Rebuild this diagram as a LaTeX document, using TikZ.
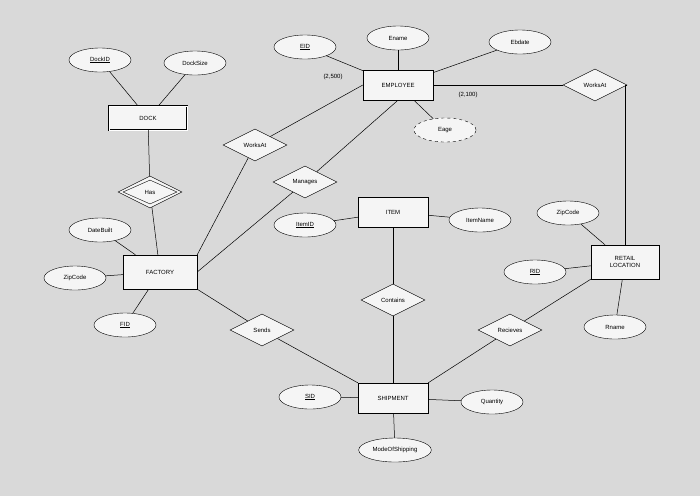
\documentclass[tikz,border=0pt]{standalone}
\usepackage{fontspec}
\setmainfont{Liberation Sans}
\usetikzlibrary{shapes.geometric}
\begin{document}
\begin{tikzpicture}[x=1pt,y=-1pt,
  every node/.style={font=\fontsize{6}{7}\selectfont},
  ent/.style={draw,fill=white!92!gray,minimum width=70,minimum height=30},
  att/.style={draw,ellipse,fill=white!92!gray,minimum width=62,minimum height=24},
  rel/.style={draw,diamond,aspect=2.4,fill=white!92!gray,inner sep=0pt,minimum width=64,minimum height=32},
  ln/.style={draw,line width=0.5pt}]
\fill[gray!30] (0,0) rectangle (700,496);
\useasboundingbox (0,0) rectangle (700,496);
% entities
\node[ent,double,minimum width=78,minimum height=24] (dock) at (148,118) {DOCK};
\node[ent,minimum width=74,minimum height=34] (fac) at (160,272) {FACTORY};
\node[ent] (emp) at (398,85) {EMPLOYEE};
\node[ent] (item) at (393,212) {ITEM};
\node[ent,minimum width=68,minimum height=34,align=center] (ret) at (625,262) {RETAIL\\LOCATION};
\node[ent] (ship) at (393,398) {SHIPMENT};
% relationships
\node[rel] (has) at (150,192) {};
\node[rel,minimum width=54,minimum height=24,label=center:Has] at (150,192) {};
\node[rel] (wa1) at (255,145) {WorksAt};
\node[rel] (man) at (305,182) {Manages};
\node[rel] (wa2) at (595,85) {WorksAt};
\node[rel] (con) at (393,300) {Contains};
\node[rel] (sen) at (262,330) {Sends};
\node[rel] (rec) at (510,330) {Recieves};
% attributes
\node[att] (dockid) at (100,60) {\underline{DockID}};
\node[att] (docksize) at (195,63) {DockSize};
\node[att] (date) at (100,230) {DateBuilt};
\node[att] (zip1) at (75,278) {ZipCode};
\node[att] (fid) at (125,325) {\underline{FID}};
\node[att] (eid) at (305,47) {\underline{EID}};
\node[att] (ename) at (398,38) {Ename};
\node[att] (ebdate) at (520,42) {Ebdate};
\node[att,dashed] (eage) at (445,130) {Eage};
\node[att] (itemid) at (305,225) {\underline{ItemID}};
\node[att] (itemname) at (480,220) {ItemName};
\node[att] (zip2) at (568,213) {ZipCode};
\node[att] (rid) at (535,272) {\underline{RID}};
\node[att] (rname) at (615,327) {Rname};
\node[att] (sid) at (310,397) {\underline{SID}};
\node[att] (qty) at (492,402) {Quantity};
\node[att,minimum width=66] (mode) at (395,450) {ModeOfShipping};
\node (c1) at (333,77) {(2,500)};
\node (c2) at (468,95) {(2,100)};
% connectors
\draw[ln] (dockid)--(dock); \draw[ln] (docksize)--(dock);
\draw[ln] (dock)--(has); \draw[ln] (has)--(fac);
\draw[ln] (date)--(fac); \draw[ln] (zip1)--(fac); \draw[ln] (fid)--(fac);
\draw[ln] (fac.north east)--(wa1)--(emp.west);
\draw[ln] (fac.east)--(man)--(emp.south);
\draw[ln] (eid)--(emp); \draw[ln] (ename)--(emp); \draw[ln] (ebdate)--(emp); \draw[ln] (eage)--(emp);
\draw[ln] (emp.east)--(wa2); \draw[ln] (wa2.east)-|(ret.north);
\draw[ln] (itemid)--(item); \draw[ln] (itemname)--(item);
\draw[ln] (item)--(con)--(ship);
\draw[ln] (zip2)--(ret); \draw[ln] (rid)--(ret); \draw[ln] (rname)--(ret);
\draw[ln] (fac.south east)--(sen)--(ship.north west);
\draw[ln] (ret.south west)--(rec)--(ship.north east);
\draw[ln] (sid)--(ship); \draw[ln] (qty)--(ship); \draw[ln] (mode)--(ship);
\end{tikzpicture}
\end{document}
